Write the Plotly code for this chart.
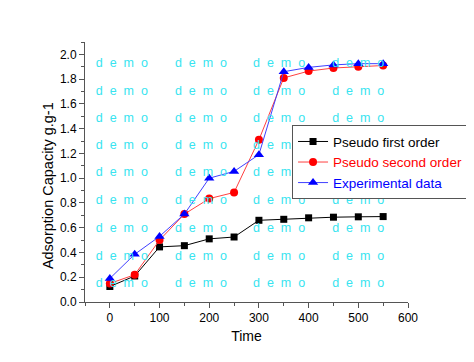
import plotly.graph_objects as go

time = [0, 50, 100, 150, 200, 250, 300, 350, 400, 450, 500, 550]
first_order = [0.125, 0.21, 0.445, 0.455, 0.51, 0.525, 0.66, 0.668, 0.68, 0.685, 0.688, 0.69]
second_order = [0.15, 0.22, 0.50, 0.71, 0.835, 0.885, 1.31, 1.81, 1.865, 1.89, 1.90, 1.91]
experimental = [0.19, 0.385, 0.53, 0.71, 1.00, 1.055, 1.19, 1.86, 1.895, 1.915, 1.925, 1.925]

wm_cols = [0.114, 0.359, 0.601, 0.846]
wm_rows = [0.917, 0.81, 0.705, 0.60, 0.495, 0.388, 0.282, 0.175, 0.07]

FONT = "Liberation Sans, Arial, sans-serif"

fig = go.Figure()

# watermark grid (beneath data)
wx, wy = [], []
for r in wm_rows:
    for c in wm_cols:
        wx.append(c)
        wy.append(r)
fig.add_trace(go.Scatter(x=wx, y=wy, mode="text", text=["d  e  m  o"] * len(wx),
                         textfont=dict(color="#38e4f0", size=12.5, family=FONT),
                         xaxis="x2", yaxis="y2", showlegend=False, hoverinfo="skip"))

fig.add_trace(go.Scatter(x=time, y=first_order, mode="lines+markers", name="Pseudo first order",
                         line=dict(color="black", width=1),
                         marker=dict(symbol="square", size=7, color="black")))
fig.add_trace(go.Scatter(x=time, y=second_order, mode="lines+markers",
                         name="<span style='color:red'>Pseudo second order</span>",
                         line=dict(color="#ff4040", width=1),
                         marker=dict(symbol="circle", size=8, color="red")))
fig.add_trace(go.Scatter(x=time, y=experimental, mode="lines+markers",
                         name="<span style='color:blue'>Experimental data</span>",
                         line=dict(color="#4040ff", width=1),
                         marker=dict(symbol="triangle-up", size=9, color="blue")))

fig.update_layout(
    width=466, height=354,
    margin=dict(l=77, r=66, t=34, b=60, autoexpand=False),
    paper_bgcolor="white", plot_bgcolor="white",
    font=dict(family=FONT, size=12, color="black"),
    showlegend=True,
    legend=dict(x=0.641, y=0.68, xanchor="left", yanchor="top",
                bgcolor="white", bordercolor="#555555", borderwidth=1,
                font=dict(size=13.5, family=FONT), tracegroupgap=0,
                itemwidth=30),
    xaxis=dict(range=[-50, 600], tickvals=[0, 100, 200, 300, 400, 500, 600],
               automargin=False,
               showgrid=False, zeroline=False, showline=True, linecolor="#555555", linewidth=1,
               ticks="outside", ticklen=5, tickcolor="#555555",
               minor=dict(dtick=50, tick0=0, ticks="outside", ticklen=3, tickcolor="#555555", showgrid=False),
               title=dict(text="Time", font=dict(size=14), standoff=6),
               tickfont=dict(size=12)),
    yaxis=dict(range=[0, 2.1], tickvals=[0, 0.2, 0.4, 0.6, 0.8, 1.0, 1.2, 1.4, 1.6, 1.8, 2.0],
               tickformat=".1f", automargin=False,
               showgrid=False, zeroline=False, showline=True, linecolor="#555555", linewidth=1,
               ticks="outside", ticklen=5, tickcolor="#555555",
               minor=dict(dtick=0.1, tick0=0, ticks="outside", ticklen=3, tickcolor="#555555", showgrid=False),
               tickfont=dict(size=12)),
    xaxis2=dict(range=[0, 1], overlaying="x", visible=False, fixedrange=True),
    yaxis2=dict(range=[0, 1], overlaying="y", visible=False, fixedrange=True),
    annotations=[dict(text="Adsorption Capacity g.g-1", xref="paper", yref="paper",
                      x=-0.115, y=0.449, xanchor="center", yanchor="middle",
                      textangle=-90, showarrow=False, font=dict(size=14.5, family=FONT))],
)

fig.write_html("out.html")
